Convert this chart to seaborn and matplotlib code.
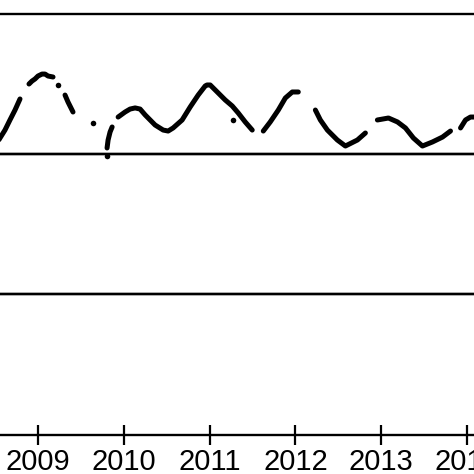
import numpy as np
import pandas as pd
import matplotlib
matplotlib.use("Agg")
import matplotlib.pyplot as plt
import seaborn as sns

sns.set_style("white")
plt.rcParams['font.family'] = ['Liberation Sans', 'DejaVu Sans']

# ---- data (decimal year, relative value 0-100 within top panel) ----
seg_a_year = [2008.522, 2008.557, 2008.615, 2008.673, 2008.732, 2008.790]
seg_a_val = [7.9, 11.4, 17.1, 24.3, 31.4, 39.3]

seg_b_year = [2008.895, 2008.930, 2008.965, 2009.000, 2009.047, 2009.082, 2009.117, 2009.175]
seg_b_val = [50.0, 52.1, 53.6, 55.7, 57.1, 57.1, 55.7, 55.0]

seg_c_year = [2009.315, 2009.350, 2009.408]
seg_c_val = [42.1, 37.1, 30.0]

seg_d_year = [2009.805, 2009.817, 2009.840, 2009.864]
seg_d_val = [4.3, 10.0, 15.7, 19.3]

seg_e_year = [2009.934, 2010.015, 2010.073, 2010.132, 2010.190, 2010.249,
              2010.365, 2010.459, 2010.517, 2010.575, 2010.680, 2010.774,
              2010.867, 2010.949, 2010.970, 2011.007, 2011.089, 2011.182,
              2011.264, 2011.334, 2011.415, 2011.497]
seg_e_val = [26.4, 30.0, 32.1, 32.9, 32.1, 27.9, 20.7, 17.1, 16.4, 18.6,
             24.3, 33.6, 42.1, 48.6, 49.3, 49.3, 44.3, 38.6, 34.3, 29.3,
             22.9, 17.1]

seg_f_year = [2011.626, 2011.707, 2011.801, 2011.883, 2011.964, 2012.034]
seg_f_val = [16.4, 22.9, 31.4, 40.0, 44.3, 44.3]

seg_g_year = [2012.233, 2012.291, 2012.373, 2012.489, 2012.583, 2012.723, 2012.816]
seg_g_val = [31.4, 24.3, 17.1, 10.0, 5.7, 10.0, 15.0]

seg_h_year = [2012.956, 2013.085, 2013.190, 2013.283, 2013.376, 2013.481,
              2013.598, 2013.715, 2013.808]
seg_h_val = [24.3, 25.7, 22.9, 18.6, 11.4, 5.7, 8.6, 12.1, 16.4]

seg_i_year = [2013.925, 2013.983, 2014.041, 2014.111]
seg_i_val = [18.6, 24.3, 26.4, 26.4]

single_year = [2009.233, 2009.642, 2009.805, 2011.276]
single_val = [49.3, 22.1, -1.4, 24.3]

tick_years = [2009, 2010, 2011, 2012, 2013, 2014]
tick_labels = ["2009", "2010", "2011", "2012", "2013", "2014"]

segments = {
    "A": (seg_a_year, seg_a_val), "B": (seg_b_year, seg_b_val),
    "C": (seg_c_year, seg_c_val), "D": (seg_d_year, seg_d_val),
    "E": (seg_e_year, seg_e_val), "F": (seg_f_year, seg_f_val),
    "G": (seg_g_year, seg_g_val), "H": (seg_h_year, seg_h_val),
    "I": (seg_i_year, seg_i_val),
}
rows = []
for name, (ys, vs) in segments.items():
    for y, v in zip(ys, vs):
        rows.append({"year": y, "value": v, "segment": name})
df = pd.DataFrame(rows)
df_pts = pd.DataFrame({"year": single_year, "value": single_val})

# ---- layout ----
fig = plt.figure(figsize=(4.74, 4.74), dpi=100)
H = 474.0
lines_px = [14, 154, 294, 435]
xlim = (2008.557, 2014.082)
axes = []
for i in range(3):
    top, bot = lines_px[i], lines_px[i + 1]
    ax = fig.add_axes([0, (H - bot) / H, 1, (bot - top) / H])
    ax.set_xlim(*xlim)
    ax.set_ylim(0, 100)
    for s in ("left", "right"):
        ax.spines[s].set_visible(False)
    for s in ("top", "bottom"):
        ax.spines[s].set_linewidth(1.7)
        ax.spines[s].set_color("black")
    ax.set_yticks([])
    ax.patch.set_alpha(0)
    axes.append(ax)

ax0 = axes[0]
sns.lineplot(data=df, x="year", y="value", units="segment", estimator=None,
             sort=False, color="black", linewidth=3.6, ax=ax0,
             solid_capstyle="round", solid_joinstyle="round", legend=False)
sns.scatterplot(data=df_pts, x="year", y="value", color="black", s=16,
                edgecolor="black", linewidth=0, ax=ax0, clip_on=False,
                legend=False)

for ax in axes[:2]:
    ax.set_xticks([])
    ax.set_xlabel("")
    ax.set_ylabel("")

axb = axes[2]
axb.set_xticks(tick_years)
axb.set_xticklabels(tick_labels, fontsize=21)
axb.tick_params(axis="x", direction="inout", length=14, width=1.6,
                pad=2, colors="black", bottom=True)
axb.set_xlabel("")
axb.set_ylabel("")

fig.savefig("out.png", dpi=100)
